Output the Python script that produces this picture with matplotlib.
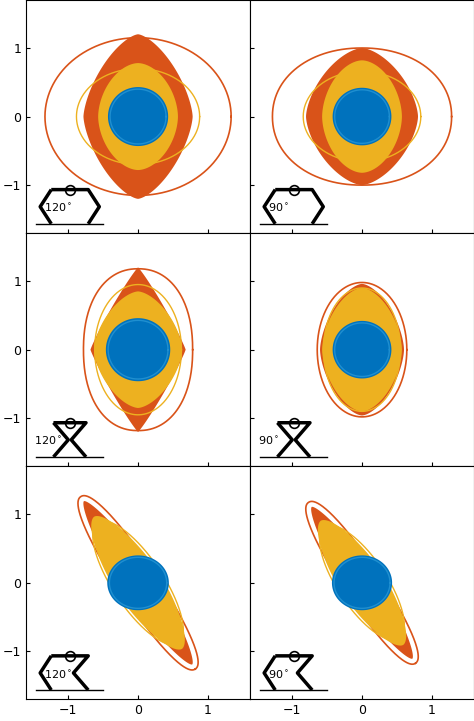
import numpy as np
import matplotlib
matplotlib.use('Agg')
import matplotlib.pyplot as plt

RED = '#d95319'
YEL = '#edb120'
BLUE = '#0072bd'

# per panel: (semi-x, semi-y, exponent, angle deg)
outer = [(1.33, 1.15, 2.0, 0), (1.28, 1.0, 2.1, 0),
         (0.78, 1.18, 2.2, 0), (0.64, 0.98, 2.0, 0),
         (1.5, 0.27, 2.2, -57), (1.4, 0.26, 2.2, -57)]
orange = [(0.78, 1.2, 1.5, 0), (0.8, 1.0, 1.6, 0),
          (0.68, 1.2, 1.1, 0), (0.6, 0.96, 1.6, 0),
          (1.42, 0.24, 1.6, -57), (1.32, 0.23, 1.6, -57)]
yellow = [(0.57, 0.78, 1.8, 0), (0.57, 0.82, 1.8, 0),
          (0.63, 0.85, 1.6, 0), (0.57, 0.9, 1.7, 0),
          (1.15, 0.33, 1.8, -57), (1.08, 0.32, 1.8, -57)]
yel_ring = [(0.88, 0.7, 2, 0), (0.84, 0.66, 2, 0),
            (0.62, 0.95, 2, 0), (0.55, 0.9, 2, 0),
            (1.05, 0.36, 2, -57), (0.97, 0.35, 2, -57)]
blue = [(0.43, 0.43), (0.42, 0.42), (0.46, 0.46), (0.42, 0.42), (0.44, 0.4), (0.43, 0.4)]
angles = ['120', '90', '120', '90', '120', '90']


def shape(a, b, n, ang):
    t = np.linspace(0, 2 * np.pi, 361)
    c, s = np.cos(t), np.sin(t)
    x = a * np.sign(c) * np.abs(c) ** (2 / n)
    y = b * np.sign(s) * np.abs(s) ** (2 / n)
    r = np.deg2rad(ang)
    return x * np.cos(r) - y * np.sin(r), x * np.sin(r) + y * np.cos(r)


def inset(ax, row, lab):
    ia = ax.inset_axes([0.03, 0.02, 0.33, 0.2])
    ia.set_xlim(0, 10)
    ia.set_ylim(0, 6)
    ia.axis('off')
    kw = dict(color='k', lw=2.5, solid_capstyle='butt')
    ia.plot([0.5, 9.5], [0.6, 0.6], color='k', lw=1)
    if row == 0:
        ia.plot([2.5, 7.5, 9.0, 7.5], [5, 5, 2.8, 0.6], **kw)
        ia.plot([2.5, 1.0, 2.5], [5, 2.8, 0.6], **kw)
    elif row == 1:
        ia.plot([2.8, 7.2, 5.2, 7.2], [5, 5, 2.8, 0.6], **kw)
        ia.plot([2.8, 4.8, 2.8], [5, 2.8, 0.6], **kw)
    else:
        ia.plot([2.5, 7.5, 5.5, 7.5], [5, 5, 2.8, 0.6], **kw)
        ia.plot([2.5, 1.0, 2.5], [5, 2.8, 0.6], **kw)
    ia.plot(5, 5, 'o', mfc='none', mec='k', ms=7, mew=1.2)
    ia.text(1.5 if row != 1 else 0.2, 2.6, lab + '$^\\circ$', fontsize=8, va='center')


fig, axes = plt.subplots(3, 2, figsize=(4.74, 7.21), dpi=100, sharex=True, sharey=True)
fig.subplots_adjust(left=0.055, right=1.0, top=1.0, bottom=0.03, wspace=0, hspace=0)
for i, ax in enumerate(axes.flat):
    ax.plot(*shape(*outer[i]), color=RED, lw=1.2, zorder=1)
    ax.fill(*shape(*orange[i]), color=RED, lw=0, zorder=2)
    ax.fill(*shape(*yellow[i]), color=YEL, lw=0, zorder=3)
    ax.plot(*shape(*yel_ring[i]), color=YEL, lw=1, zorder=4)
    bx, by = shape(blue[i][0], blue[i][1], 2, 0)
    ax.fill(bx, by, color=BLUE, lw=0, zorder=5)
    ax.plot(*shape(blue[i][0] * 0.93, blue[i][1] * 0.93, 2, 0), color='#1f8fd0', lw=1, zorder=6)
    inset(ax, i // 2, angles[i])
    ax.set_xlim(-1.6, 1.6)
    ax.set_ylim(-1.7, 1.7)
    ax.set_xticks([-1, 0, 1])
    ax.set_yticks([-1, 0, 1])
    ax.tick_params(direction='in', labelsize=9, length=3)
fig.savefig('out.png', dpi=100)
